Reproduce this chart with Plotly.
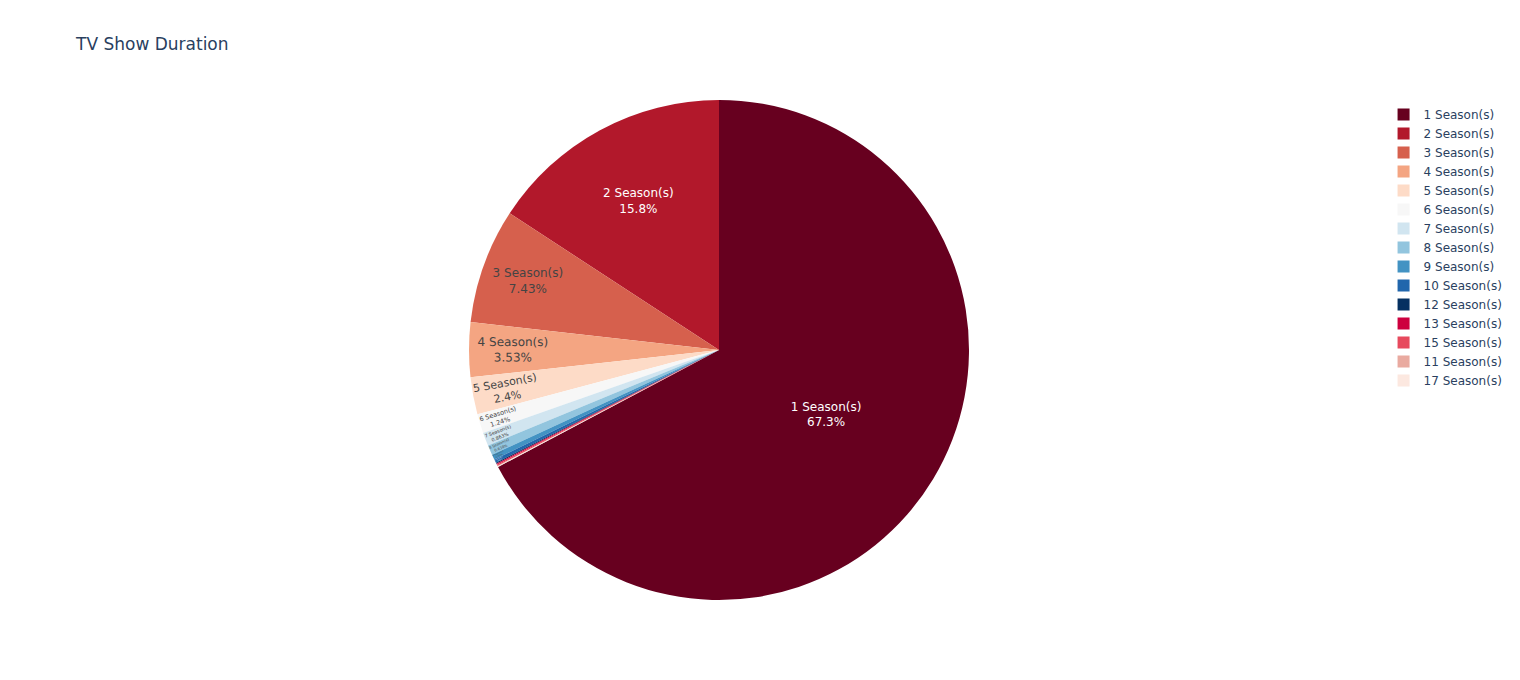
#!/usr/bin/env python3
# coding: utf-8

import plotly.graph_objects as go
import plotly.express as px

# number of TV shows per duration (as listed in the data)
durations = ['1 Season(s)', '2 Season(s)', '3 Season(s)', '4 Season(s)', '5 Season(s)',
             '6 Season(s)', '7 Season(s)', '8 Season(s)', '9 Season(s)', '10 Season(s)',
             '12 Season(s)', '13 Season(s)', '15 Season(s)', '11 Season(s)', '17 Season(s)']
show_counts = [1793, 421, 198, 94, 64, 33, 23, 17, 9, 6, 2, 2, 2, 1, 1]

fig = go.Figure(data=[go.Pie(labels=durations, values=show_counts,
                             textinfo='percent+label',
                             textposition='inside')])
fig.update_layout(title='TV Show Duration',
                  piecolorway=px.colors.sequential.RdBu,
                  font=dict(family='Verdana, DejaVu Sans'),
                  width=1520, height=680)

# page without the default body margin, so the figure starts at the corner
fig.write_html('out.html', config={'displayModeBar': False},
               post_script="document.body.style.margin='0';")
